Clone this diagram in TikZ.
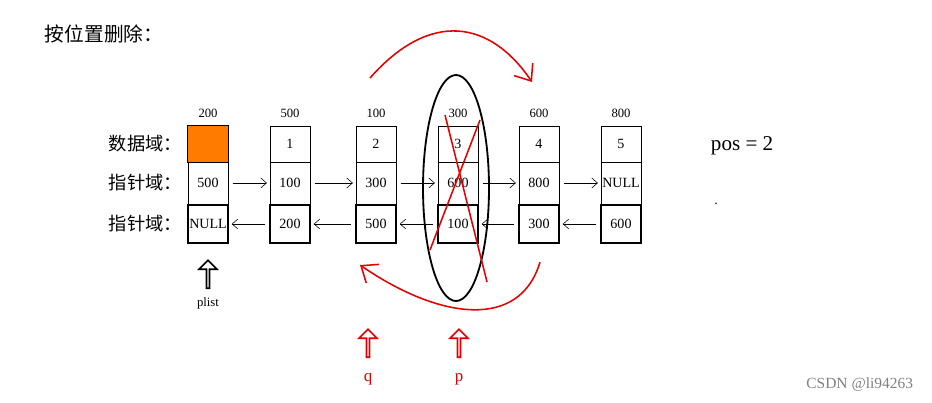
\documentclass[tikz,border=0pt]{standalone}
\usepackage{fontspec}
\setmainfont{Liberation Serif}
\newfontfamily\cjk{Noto Sans CJK SC}
\usetikzlibrary{arrows.meta}
\usetikzlibrary{shapes.arrows}

\begin{document}
\begin{tikzpicture}[x=0.025cm,y=-0.025cm,
    cell/.style={draw,minimum width=1cm,inner sep=0pt,font=\fontsize{10}{10}\selectfont},
    thick cell/.style={cell,line width=1.3pt},
    link/.style={-{Straight Barb[length=4pt,width=7pt]},thin},
    redline/.style={red!90!black,line width=1.1pt},
    bigtip/.style={-{Straight Barb[length=10pt,width=16pt]}},
    hollow/.style={single arrow,draw,shape border rotate=90,minimum height=0.7cm,
      minimum width=0.45cm,single arrow head extend=0.1cm,inner sep=0pt,line width=1.2pt}]
  \useasboundingbox (0,0) rectangle (932,402);

  \node[anchor=west,font=\cjk\fontsize{14}{14}\selectfont] (title) at (40,34) {按位置删除：};
  \node[anchor=west,font=\cjk\fontsize{13}{13}\selectfont] (ldata) at (104,144) {数据域：};
  \node[anchor=west,font=\cjk\fontsize{13}{13}\selectfont] (lnext) at (104,183) {指针域：};
  \node[anchor=west,font=\cjk\fontsize{13}{13}\selectfont] (lprior) at (104,224) {指针域：};

  % list nodes: address, data, next, prior
  \foreach \i/\x/\addr/\val/\nxt/\prv in {1/208/200//500/NULL,2/290/500/1/100/200,
      3/376/100/2/300/500,4/458/300/3/600/100,5/539/600/4/800/300,6/621/800/5/NULL/600} {
    \node[font=\fontsize{9}{9}\selectfont] (a\i) at (\x,113) {\addr};
    \node[cell,minimum height=0.9cm] (d\i) at (\x,144) {\val};
    \node[cell,minimum height=1.05cm] (n\i) at (\x,183) {\nxt};
    \node[thick cell,minimum height=0.95cm] (p\i) at (\x,224) {\prv};
  }
  \fill[orange!85!red!90!yellow] (d1.south west) rectangle (d1.north east);
  \draw (d1.south west) rectangle (d1.north east);

  \foreach \i/\j in {1/2,2/3,3/4,4/5,5/6} {
    \draw[link] ([xshift=3pt]n\i.east) -- ([xshift=-2pt]n\j.west);
    \draw[link] ([xshift=-3pt]p\j.west) -- ([xshift=2pt]p\i.east);
  }

  % deleted node
  \draw[line width=1.3pt] (456,188) ellipse (33 and 113);
  \draw[redline] (445,115) -- (487,282);
  \draw[redline] (480,120) -- (430,250);
  \draw[redline,bigtip] (370,78) .. controls (430,10) and (490,20) .. (532,82);
  \draw[redline,bigtip] (540,262) .. controls (520,330) and (440,320) .. (360,265);

  \node[hollow] (plist) at (208,275) {};
  \node[font=\fontsize{9}{9}\selectfont] (lplist) at (208,303) {plist};
  \node[hollow,red!90!black] (q) at (368,344) {};
  \node[red!90!black,font=\fontsize{12}{12}\selectfont] (lq) at (368,379) {q};
  \node[hollow,red!90!black] (p) at (459,344) {};
  \node[red!90!black,font=\fontsize{12}{12}\selectfont] (lp) at (459,379) {p};

  \node[anchor=west,font=\fontsize{15}{15}\selectfont] (pos) at (706,146) {pos = 2};
  \node (dot) at (716,204) {.};
  \node[gray,anchor=east,font=\fontsize{11}{11}\selectfont] (mark) at (918,385) {CSDN @li94263};
\end{tikzpicture}
\end{document}
